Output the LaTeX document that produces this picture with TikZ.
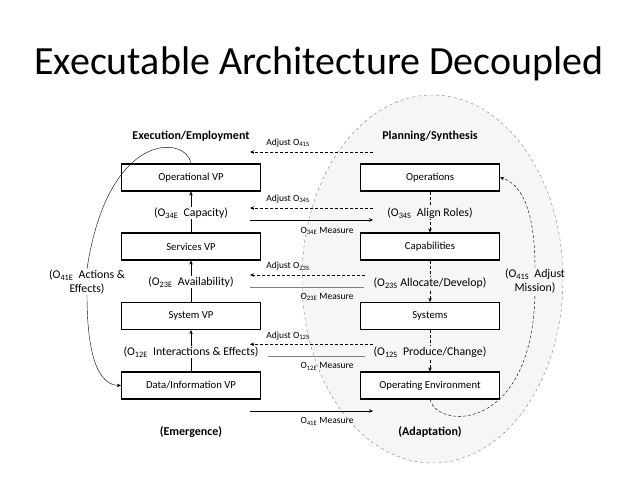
\documentclass[tikz,border=0pt]{standalone}
\usepackage{fontspec}
\setmainfont{Carlito}
\usetikzlibrary{arrows.meta}
\newcommand{\sbs}[1]{\textsubscript{#1}}
\begin{document}
\begin{tikzpicture}[x=1pt,y=-1pt,
  box/.style={draw,line width=1.1pt,minimum width=139pt,minimum height=27pt,inner sep=0pt,font=\fontsize{10.7}{12}\selectfont},
  lbl/.style={font=\fontsize{11.8}{13.5}\selectfont,inner sep=1pt},
  hdr/.style={font=\bfseries\fontsize{12}{14}\selectfont},
  sml/.style={font=\fontsize{9.5}{11}\selectfont,inner sep=0pt},
  arr/.style={-{Stealth[length=4pt,width=3.5pt]}},
  dsh/.style={dash pattern=on 3pt off 2pt},
  ellfill/.style={fill=gray!7}]
\useasboundingbox (0,0) rectangle (638,479);
\node[font=\fontsize{40}{44}\selectfont] (title) at (319,64) {Executable Architecture Decoupled};
% ellipse region
\draw[gray,dashed,ellfill] (432.5,279) ellipse [x radius=130.5, y radius=184];
% headers
\node[hdr] (hexe) at (191,136) {Execution/Employment};
\node[hdr] (hplan) at (430,136) {Planning/Synthesis};
\node[hdr] (hem) at (191,432) {(Emergence)};
\node[hdr] (had) at (430,432) {(Adaptation)};
% left boxes
\node[box] (opvp) at (191,177.5) {Operational VP};
\node[box] (svp) at (191,246.5) {Services VP};
\node[box] (sysvp) at (191,316) {System VP};
\node[box] (divp) at (191,385.5) {Data/Information VP};
% right boxes
\node[box,fill=white] (ops) at (430,177.5) {Operations};
\node[box,fill=white] (cap) at (430,246.5) {Capabilities};
\node[box,fill=white] (sys) at (430,316) {Systems};
\node[box,fill=white] (oe) at (430,385.5) {Operating Environment};
% left vertical arrows
\draw[arr] (svp.north) -- (opvp.south);
\draw[arr] (sysvp.north) -- (svp.south);
\draw[arr] (divp.north) -- (sysvp.south);
\node[lbl,fill=white] (l34e) at (191,213) {(O\sbs{34E} \ Capacity)};
\node[lbl,fill=white] (l23e) at (191,282) {(O\sbs{23E} \ Availability)};
\node[lbl,fill=white] (l12e) at (191,352) {(O\sbs{12E} \ Interactions \& Effects)};
% right vertical arrows
\draw[arr,dsh] (ops.south) -- (cap.north);
\draw[arr,dsh] (cap.south) -- (sys.north);
\draw[arr,dsh] (sys.south) -- (oe.north);
\node[lbl,ellfill] (l34s) at (430,213) {(O\sbs{34S} \ Align Roles)};
\node[lbl,ellfill] (l23s) at (430,283) {(O\sbs{23S} Allocate/Develop)};
\node[lbl,ellfill] (l12s) at (430,352) {(O\sbs{12S} \ Produce/Change)};
% horizontal connectors
\coordinate (a41sR) at (373,152); \coordinate (a41sL) at (250,152);
\coordinate (a34sR) at (373,208); \coordinate (a34sL) at (250,208);
\coordinate (m34eL) at (250,220); \coordinate (m34eR) at (373,220);
\coordinate (a23sR) at (365,275); \coordinate (a23sL) at (250,275);
\coordinate (m23eL) at (250,287.7); \coordinate (m23eR) at (364,287.7);
\coordinate (a12sR) at (373,344.3); \coordinate (a12sL) at (250,344.3);
\coordinate (m12eL) at (268,356.7); \coordinate (m12eR) at (365,356.7);
\coordinate (m41eL) at (250,411); \coordinate (m41eR) at (373,411);
\draw[arr,dsh] (a41sR) -- (a41sL);
\draw[arr,dsh] (a34sR) -- (a34sL);
\draw[arr] (m34eL) -- (m34eR);
\draw[arr,dsh] (a23sR) -- (a23sL);
\draw[gray,line width=1pt] (m23eL) -- (m23eR);
\draw[arr,dsh] (a12sR) -- (a12sL);
\draw[gray,line width=1pt] (m12eL) -- (m12eR);
\draw[arr] (m41eL) -- (m41eR);
\node[sml] (t41s) at (288,143) {Adjust O\sbs{41S}};
\node[sml] (t34s) at (288,199) {Adjust O\sbs{34S}};
\node[sml] (t34e) at (327,231) {O\sbs{34E} Measure};
\node[sml] (t23s) at (288,266.5) {Adjust O\sbs{23S}};
\node[sml] (t23e) at (327,297) {O\sbs{23E} Measure};
\node[sml] (t12s) at (288,335.7) {Adjust O\sbs{12S}};
\node[sml] (t12e) at (327,366.5) {O\sbs{12E} Measure};
\node[sml] (t41e) at (327,421.5) {O\sbs{41E} Measure};
% left loop
\node[lbl,align=center] (l41e) at (87,282) {(O\sbs{41E} \ Actions \&\\Effects)};
\draw (opvp.north) .. controls (186,135) and (108,130) .. (l41e.north);
\draw[arr] (l41e.south) .. controls (87,360) and (100,385) .. (divp.west);
% right loop
\node[lbl,align=center] (l41s) at (535,281) {(O\sbs{41S} \ Adjust\\Mission)};
\draw[dsh] (oe.south) .. controls (438,430) and (532,432) .. (l41s.south);
\draw[arr,dsh] (l41s.north) .. controls (535,212) and (522,184) .. (ops.east);
\end{tikzpicture}
\end{document}
